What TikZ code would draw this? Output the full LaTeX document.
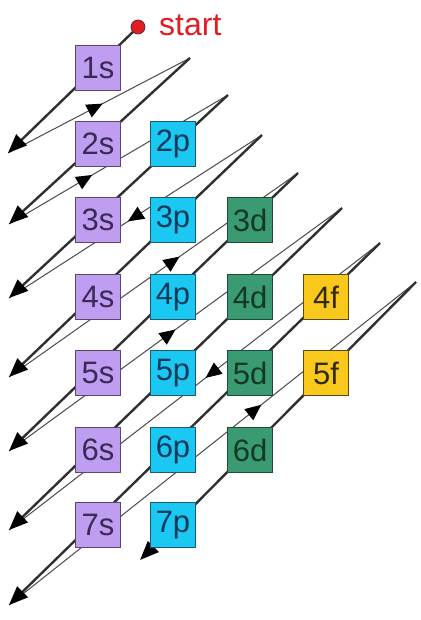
\documentclass[tikz,border=0pt]{standalone}
\usepackage{fontspec}
\setmainfont{Liberation Sans}
\usetikzlibrary{arrows.meta,decorations.markings}
\definecolor{sfill}{HTML}{BF9DF0}
\definecolor{sdraw}{HTML}{5A4670}
\definecolor{stext}{HTML}{3A2A55}
\definecolor{pfill}{HTML}{1BC8F2}
\definecolor{pdraw}{HTML}{1A5A78}
\definecolor{ptext}{HTML}{0C3A5C}
\definecolor{dfill}{HTML}{3A9A72}
\definecolor{ddraw}{HTML}{1E4A36}
\definecolor{dtext}{HTML}{143828}
\definecolor{ffill}{HTML}{F8C81C}
\definecolor{fdraw}{HTML}{5A4A1A}
\definecolor{ftext}{HTML}{302A10}
\definecolor{diaggray}{HTML}{303030}
\definecolor{retgray}{HTML}{4A4A4A}
\definecolor{startred}{HTML}{E41B22}
\begin{document}
\begin{tikzpicture}[x=1pt,y=-1pt,
  orb/.style={draw, line width=1.3pt, minimum size=45pt, inner sep=0pt,
    font=\fontsize{31}{31}\selectfont},
  sorb/.style={orb, fill=sfill, draw=sdraw, text=stext},
  porb/.style={orb, fill=pfill, draw=pdraw, text=ptext},
  dorb/.style={orb, fill=dfill, draw=ddraw, text=dtext},
  forb/.style={orb, fill=ffill, draw=fdraw, text=ftext},
  diagline/.style={draw=diaggray, line width=2.4pt,
    -{Triangle[length=19pt,width=15pt,color=black]}},
  retline/.style={draw=retgray, line width=1pt, postaction={decorate},
    decoration={markings, mark=at position #1 with
      {\arrow{Triangle[length=16pt,width=14pt,color=black]}}}},
  retrev/.style={draw=retgray, line width=1pt, postaction={decorate},
    decoration={markings, mark=at position #1 with
      {\arrowreversed{Triangle[length=16pt,width=14pt,color=black]}}}}
]
\useasboundingbox (0,0) rectangle (420,620);

% tips (upper right) and left ends
\coordinate (S)  at (138,27);
\coordinate (T2) at (190,58);
\coordinate (T3) at (228,95);
\coordinate (T4) at (262,135);
\coordinate (T5) at (298,173);
\coordinate (T6) at (342,208);
\coordinate (T7) at (380,243);
\coordinate (T8) at (416,282);
\coordinate (L1) at (8,153);
\coordinate (L2) at (9,224);
\coordinate (L3) at (9,298);
\coordinate (L4) at (9,377);
\coordinate (L5) at (9,451);
\coordinate (L6) at (9,530);
\coordinate (L7) at (9,605);
\coordinate (L8) at (140,560);

% return lines
\draw[retline=0.52] (L1) -- (T2);
\draw[retline=0.38] (L2) -- (T3);
\draw[retrev=0.47]  (L3) -- (T4);
\draw[retline=0.59] (L4) -- (T5);
\draw[retline=0.50] (L5) -- (T6);
\draw[retrev=0.53]  (L6) -- (T7);
\draw[retline=0.62] (L7) -- (T8);

% diagonals
\draw[diagline] (S)  -- (L1);
\draw[diagline] (T2) -- (L2);
\draw[diagline] (T3) -- (L3);
\draw[diagline] (T4) -- (L4);
\draw[diagline] (T5) -- (L5);
\draw[diagline] (T6) -- (L6);
\draw[diagline] (T7) -- (L7);
\draw[diagline] (T8) -- (L8);

% orbitals
\node[sorb] (s1) at (98,68)  {1s};
\node[sorb] (s2) at (98,144) {2s};
\node[sorb] (s3) at (98,220) {3s};
\node[sorb] (s4) at (98,297) {4s};
\node[sorb] (s5) at (98,373) {5s};
\node[sorb] (s6) at (98,450) {6s};
\node[sorb] (s7) at (98,525) {7s};
\node[porb] (p2) at (173,144) {2p};
\node[porb] (p3) at (173,220) {3p};
\node[porb] (p4) at (173,297) {4p};
\node[porb] (p5) at (173,373) {5p};
\node[porb] (p6) at (173,450) {6p};
\node[porb] (p7) at (173,525) {7p};
\node[dorb] (d3) at (250,220) {3d};
\node[dorb] (d4) at (250,297) {4d};
\node[dorb] (d5) at (250,373) {5d};
\node[dorb] (d6) at (250,450) {6d};
\node[forb] (f4) at (326,297) {4f};
\node[forb] (f5) at (326,373) {5f};

% start
\node[circle, fill=startred, draw=diaggray!70!startred, line width=0.8pt,
  minimum size=14pt, inner sep=0pt] (dot) at (S) {};
\node[anchor=base west, text=startred, inner sep=0pt,
  font=\fontsize{32}{32}\selectfont] (lbl) at (159,36) {start};
\end{tikzpicture}
\end{document}
